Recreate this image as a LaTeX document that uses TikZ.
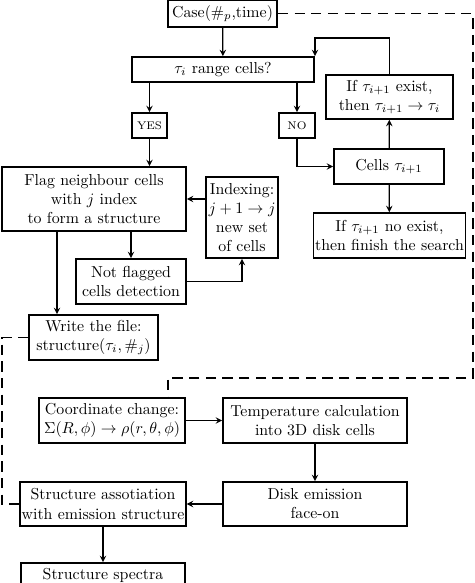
\documentclass[tikz,border=0pt]{standalone}
\usetikzlibrary{arrows}
\newcommand{\pxsz}{0.63pt}
\tikzset{
	box/.style={draw, line width=1.05pt, align=center, inner sep=1pt},
	arr/.style={line width=0.8pt, -stealth},
	dashline/.style={line width=1pt, dash pattern=on 6.5pt off 4pt},
}
\begin{document}
\begin{tikzpicture}[x=0.63pt, y=-0.63pt]
		\useasboundingbox (0, 0) rectangle (474, 583);
		\node[box, minimum width=109*\pxsz, minimum height=27*\pxsz] (case) at (222.5, 13.5) {Case($\#_p$,time)};
		\node[box, minimum width=182*\pxsz, minimum height=25*\pxsz] (rng) at (223, 69.5) {$\tau_i$ range cells?};
		\node[box, minimum width=35*\pxsz, minimum height=25*\pxsz] (yes) at (149.5, 125.5) {\scriptsize YES};
		\node[box, minimum width=36*\pxsz, minimum height=25*\pxsz] (no) at (297, 125.5) {\scriptsize NO};
		\node[box, minimum width=127*\pxsz, minimum height=44*\pxsz] (ifex) at (389.5, 97) {If $\tau_{i+1}$ exist,\\then $\tau_{i+1}\rightarrow\tau_i$};
		\node[box, minimum width=110*\pxsz, minimum height=35*\pxsz] (cells) at (389, 166.5) {Cells $\tau_{i+1}$};
		\node[box, minimum width=184*\pxsz, minimum height=64*\pxsz] (flag) at (94, 199) {Flag neighbour cells\\with $j$ index\\to form a structure};
		\node[box, minimum width=72*\pxsz, minimum height=81*\pxsz] (idx) at (242, 217.5) {Indexing:\\$j+1\rightarrow j$\\new set\\of cells};
		\node[box, minimum width=147*\pxsz, minimum height=45*\pxsz] (ifno) at (389.5, 235.5) {If $\tau_{i+1}$ no exist,\\then finish the search};
		\node[box, minimum width=110*\pxsz, minimum height=45*\pxsz] (notf) at (131, 281.5) {Not flagged\\cells detection};
		\node[box, minimum width=129*\pxsz, minimum height=45*\pxsz] (write) at (93.5, 337.5) {Write the file:\\structure($\tau_i,\#_j$)};
		\node[box, minimum width=146*\pxsz, minimum height=45*\pxsz] (coord) at (112, 420.5) {Coordinate change:\\$\Sigma(R,\phi)\rightarrow\rho(r,\theta,\phi)$};
		\node[box, minimum width=184*\pxsz, minimum height=45*\pxsz] (temp) at (315, 420.5) {Temperature calculation\\into 3D disk cells};
		\node[box, minimum width=184*\pxsz, minimum height=44*\pxsz] (disk) at (315, 504) {Disk emission\\face-on};
		\node[box, minimum width=164*\pxsz, minimum height=44*\pxsz] (assoc) at (103, 504) {Structure assotiation\\with emission structure};
		\node[box, minimum width=164*\pxsz, minimum height=24*\pxsz] (spec) at (103, 575) {Structure spectra};
		\coordinate (back) at (315, 38);
		\coordinate (dr) at (473, 378);
		\coordinate (dl) at (2, 504);
		\draw[arr] (case) -- (rng);
		\draw[arr] (ifex.north) |- (back) -- (back |- rng.north);
		\draw[arr] (yes.north |- rng.south) -- (yes.north);
		\draw[arr] (no.north |- rng.south) -- (no.north);
		\draw[arr] (yes.south) -- (yes.south |- flag.north);
		\draw[arr] (no.south) |- (cells.west);
		\draw[arr] (cells) -- (ifex);
		\draw[arr] (cells) -- (ifno);
		\draw[arr] (idx.west |- flag.east) -- (flag.east);
		\draw[arr] (notf.north |- flag.south) -- (notf.north);
		\draw[arr] (notf.east) -| (idx.south);
		\draw[arr] ([xshift=-37*\pxsz]flag.south) -- ([xshift=-36.5*\pxsz]write.north);
		\draw[arr] (coord) -- (temp);
		\draw[arr] (temp) -- (disk);
		\draw[arr] (disk) -- (assoc);
		\draw[arr] (assoc) -- (spec);
		\draw[dashline] (case.east) -| (dr) -| ([xshift=56*\pxsz]coord.north);
		\draw[dashline] (write.west) -| (dl) -- (assoc.west);
	\end{tikzpicture}
\end{document}
